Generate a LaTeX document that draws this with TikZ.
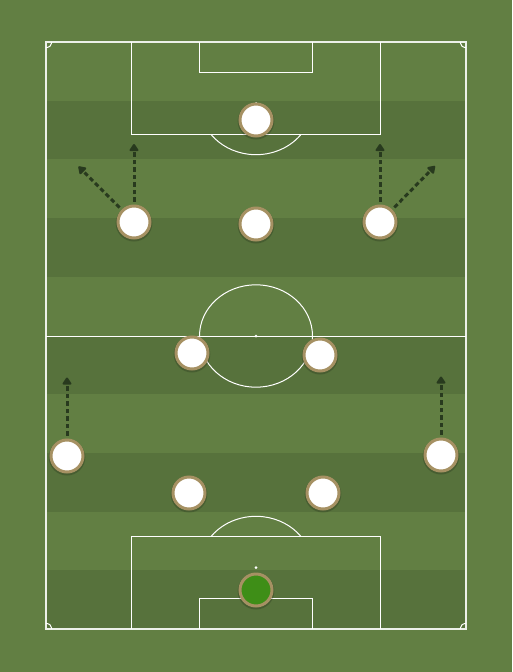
\documentclass[tikz,border=0pt]{standalone}
\usetikzlibrary{arrows.meta}
\definecolor{grassL}{HTML}{627F43}
\definecolor{grassD}{HTML}{57723C}
\definecolor{ring}{HTML}{A69163}
\definecolor{arrowc}{HTML}{283A1E}
\definecolor{gkfill}{HTML}{3E8E17}
\begin{document}
\begin{tikzpicture}[x=1pt,y=-1pt,
  pline/.style={white,line width=1pt},
  outline/.style={white!88!grassL,line width=1.2pt},
  player/.style={circle,draw=ring,fill=white,line width=3pt,minimum size=32pt,inner sep=0pt},
  shadow/.style={fill=black,opacity=0.18},
  run/.style={arrowc,line width=3pt,dash pattern=on 4.5pt off 3pt,-{Triangle[width=10pt,length=8pt,round]},shorten <=3pt}]
  % background
  \fill[grassL] (0,0) rectangle (512,672);
  \useasboundingbox (0,0) rectangle (512,672);
  % stripes
  \foreach \i in {1,3,5,7,9} {
    \fill[grassD] (46,{42+\i*58.7}) rectangle (466,{42+(\i+1)*58.7});
  }
  % outline and halfway line
  \draw[outline] (46,42) rectangle (466,629);
  \draw[pline] (46,336) -- (466,336);
  \draw[pline] (256,336) ellipse [x radius=56.5, y radius=51.2];
  \fill[white] (256,336) circle [radius=1.5];
  % top boxes
  \draw[pline] (131.4,42) -- (131.4,134.9) -- (380.6,134.9) -- (380.6,42);
  \draw[pline] (199.4,42) -- (199.4,72.7) -- (312.6,72.7) -- (312.6,42);
  \draw[pline] (256,103.5) ++(37.8:56.5 and 51.2) arc[start angle=37.8, end angle=142.2, x radius=56.5, y radius=51.2];
  \fill[white] (256,103.5) circle [radius=1.5];
  % bottom boxes
  \draw[pline] (131.4,629) -- (131.4,536.1) -- (380.6,536.1) -- (380.6,629);
  \draw[pline] (199.4,629) -- (199.4,598.3) -- (312.6,598.3) -- (312.6,629);
  \draw[pline] (256,567.5) ++(-142.2:56.5 and 51.2) arc[start angle=-142.2, end angle=-37.8, x radius=56.5, y radius=51.2];
  \fill[white] (256,567.5) circle [radius=1.5];
  % corner arcs
  \draw[pline] (52,42) arc[start angle=0, end angle=90, x radius=6, y radius=5.6];
  \draw[pline] (460,42) arc[start angle=180, end angle=90, x radius=6, y radius=5.6];
  \draw[pline] (52,629) arc[start angle=0, end angle=-90, x radius=6, y radius=5.6];
  \draw[pline] (460,629) arc[start angle=180, end angle=270, x radius=6, y radius=5.6];
  % player shadows
  \foreach \p in {(256,120),(134,222),(256,224),(380,222),(192,353),(320,355),(67,456),(441,455),(189,493),(323,493),(256,590)} {
    \fill[shadow] \p ++(0,1.2) circle [radius=18.3];
  }
  % players
  \node[player] (st) at (256,120) {};
  \node[player] (lw) at (134,222) {};
  \node[player] (am) at (256,224) {};
  \node[player] (rw) at (380,222) {};
  \node[player] (lcm) at (192,353) {};
  \node[player] (rcm) at (320,355) {};
  \node[player] (lb) at (67,456) {};
  \node[player] (rb) at (441,455) {};
  \node[player] (lcb) at (189,493) {};
  \node[player] (rcb) at (323,493) {};
  \node[player,fill=gkfill] (gk) at (256,590) {};
  % run targets
  \coordinate (lwUp) at (134,144);
  \coordinate (lwOut) at (78.5,166.5);
  \coordinate (rwUp) at (380,144);
  \coordinate (rwOut) at (435,166);
  \coordinate (lbUp) at (67,377.5);
  \coordinate (rbUp) at (441,376.5);
  % runs
  \draw[run] (lw) -- (lwUp);
  \draw[run] (lw) -- (lwOut);
  \draw[run] (rw) -- (rwUp);
  \draw[run] (rw) -- (rwOut);
  \draw[run] (lb) -- (lbUp);
  \draw[run] (rb) -- (rbUp);
\end{tikzpicture}
\end{document}
